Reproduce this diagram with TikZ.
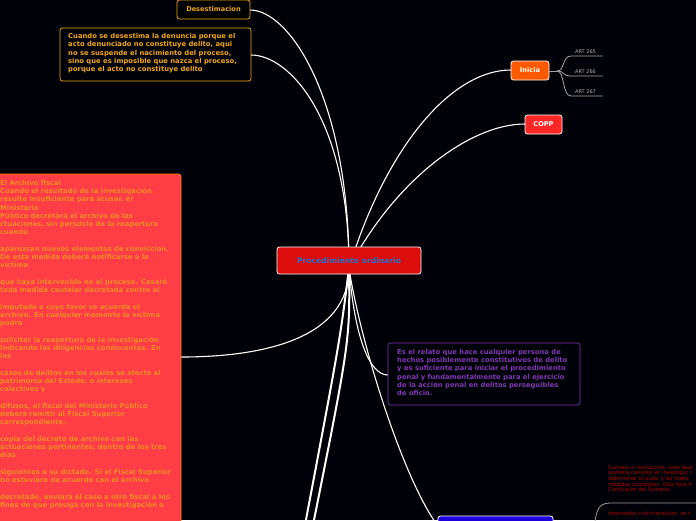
\documentclass[tikz,border=0pt]{standalone}
\usepackage{fontspec}
\setmainfont{DejaVu Sans}
\definecolor{cblue}{HTML}{2A6FC8}
\definecolor{gold}{HTML}{F0A818}
\definecolor{bigred}{HTML}{FF3D45}
\definecolor{btext}{HTML}{F08A28}
\definecolor{purp}{HTML}{8038B0}
\begin{document}
\begin{tikzpicture}[x=1pt,y=-1pt,
  box/.style={draw,rounded corners=2.5pt,line width=0.8pt,inner sep=0pt},
  lbl/.style={font=\bfseries\fontsize{6.8}{8.4}\selectfont,align=left,anchor=north west,inner sep=0pt},
  conn/.style={draw=white,line width=1.1pt},
  art/.style={draw=gray!70,line width=0.8pt}]
\useasboundingbox (0,0) rectangle (696,520);
\fill[black!97!blue] (0,0) rectangle (696,520);
\begin{scope}
\clip (0,0) rectangle (696,520);
% connectors
\coordinate (c) at (349,268);
\coordinate (b1) at (305,525);
\coordinate (b2) at (313,525);
\draw[conn] (c) .. controls (349,100) and (290,10) .. (250,10);
\draw[conn] (c) .. controls (349,120) and (290,55) .. (251,55);
\draw[conn] (c) .. controls (385,150) and (450,70) .. (511,70);
\draw[conn] (c) .. controls (395,180) and (470,124) .. (525,124);
\draw[conn] (c) .. controls (349,340) and (260,357) .. (181,357);
\draw[conn] (c) .. controls (355,340) and (370,375) .. (388,375);
\draw[conn,line width=2pt] (c) .. controls (340,340) .. (b1);
\draw[conn,line width=2pt] (c) .. controls (350,340) .. (b2);
\draw[conn] (c) .. controls (360,340) and (400,470) .. (435,522);
% nodes
\node[box,draw=white,fill=red!85!black!95,minimum width=144pt,minimum height=27pt,
  font=\bfseries\fontsize{7.6}{8}\selectfont,text=cblue] (main) at (349,260.5) {Procedimiento ordinario};
\node[box,draw=gold,fill=black,minimum width=73pt,minimum height=19pt,
  font=\bfseries\fontsize{6.6}{7}\selectfont,text=gold] (des) at (213.5,9.5) {Desestimacion};
\draw[box,draw=gold] (60,28) rectangle (251,81);
\node[lbl,text=gold] (cuando) at (68,33) {Cuando se desestima la denuncia porque el\\acto denunciado no constituye delito, aqui\\no se suspende el nacimiento del proceso,\\sino que es imposible que nazca el proceso,\\porque el acto no constituye delito};
\node[box,draw=white,fill=orange!70!red,minimum width=38pt,minimum height=19pt,
  font=\bfseries\fontsize{6.6}{7}\selectfont,text=white] (inicia) at (530,70.5) {Inicia};
\node[box,draw=white,fill=red!80!pink,minimum width=37pt,minimum height=19pt,
  font=\bfseries\fontsize{6.6}{7}\selectfont,text=white] (copp) at (543.5,124.5) {COPP};
\coordinate (ia) at (557,71);
\foreach \y/\t in {56/265,76/266,96/267}{
  \draw[art] (ia) .. controls (565,71) and (562,\y) .. (571,\y) -- (603,\y);
  \node[font=\fontsize{5}{5}\selectfont,text=gray!60,anchor=south west,inner sep=0pt] at (575,\y-2.5) {ART \t};}
\draw[art] (549,71) -- (ia);
\draw[box,draw=purp,line width=0.6pt] (388,343) rectangle (580,405);
\node[lbl,text=purp,font=\bfseries\fontsize{6.8}{8.3}\selectfont] (purple) at (397,349) {Es el relato que hace cualquier persona de\\hechos posiblemente constitutivos de delito\\y es suficiente para iniciar el procedimiento\\penal y fundamentalmente para el ejercicio\\de la acción penal en delitos perseguibles\\de oficio.};
\draw[box,draw=orange,fill=bigred] (-10,174) rectangle (181,540);
\node[lbl,text=btext,font=\bfseries\fontsize{6.8}{8.25}\selectfont] (arch) at (0,180) {El Archivo fiscal\\Cuando el resultado de la investigación\\resulte insuficiente para acusar, el\\Ministerio\\Público decretará el archivo de las\\ctuaciones, sin perjuicio de la reapertura\\cuando\\[8.3pt]aparezcan nuevos elementos de convicción.\\De esta medida deberá notificarse a la\\víctima\\[8.3pt]que haya intervenido en el proceso. Cesará\\toda medida cautelar decretada contra el\\[8.3pt]imputado a cuyo favor se acuerda el\\archivo. En cualquier momento la víctima\\podrá\\[8.3pt]solicitar la reapertura de la investigación\\indicando las diligencias conducentes. En\\los\\[8.3pt]casos de delitos en los cuales se afecte el\\patrimonio del Estado, o intereses\\colectivos y\\[8.3pt]difusos, el fiscal del Ministerio Público\\deberá remitir al Fiscal Superior\\correspondiente,\\[8.3pt]copia del decreto de archivo con las\\actuaciones pertinentes, dentro de los tres\\días\\[8.3pt]siguientes a su dictado. Si el Fiscal Superior\\no estuviere de acuerdo con el archivo\\[8.3pt]decretado, enviará el caso a otro fiscal a los\\fines de que prosiga con la investigación o};
\node[box,draw=white,fill=blue!75!violet,minimum width=115pt,minimum height=16pt] (blue) at (495.5,524) {};
\draw[art,draw=gray!80,line width=0.8pt] (595,522) .. controls (597,505) and (602,503) .. (612,503) -- (700,503);
\node[lbl,text=red!70!black,font=\fontsize{5.2}{5.6}\selectfont] (sum) at (608,465) {Sumario o instrucción: esta fase\\querella consiste en investigar l\\determinar el autor y las respo\\medidas cautelares. Esta fase fi\\Conclusión del Sumario.};
\node[lbl,text=red!70!black,font=\fontsize{5.2}{5.6}\selectfont] (inter) at (608,511) {Intermedio o de transición: se t};
\end{scope}
\end{tikzpicture}
\end{document}
